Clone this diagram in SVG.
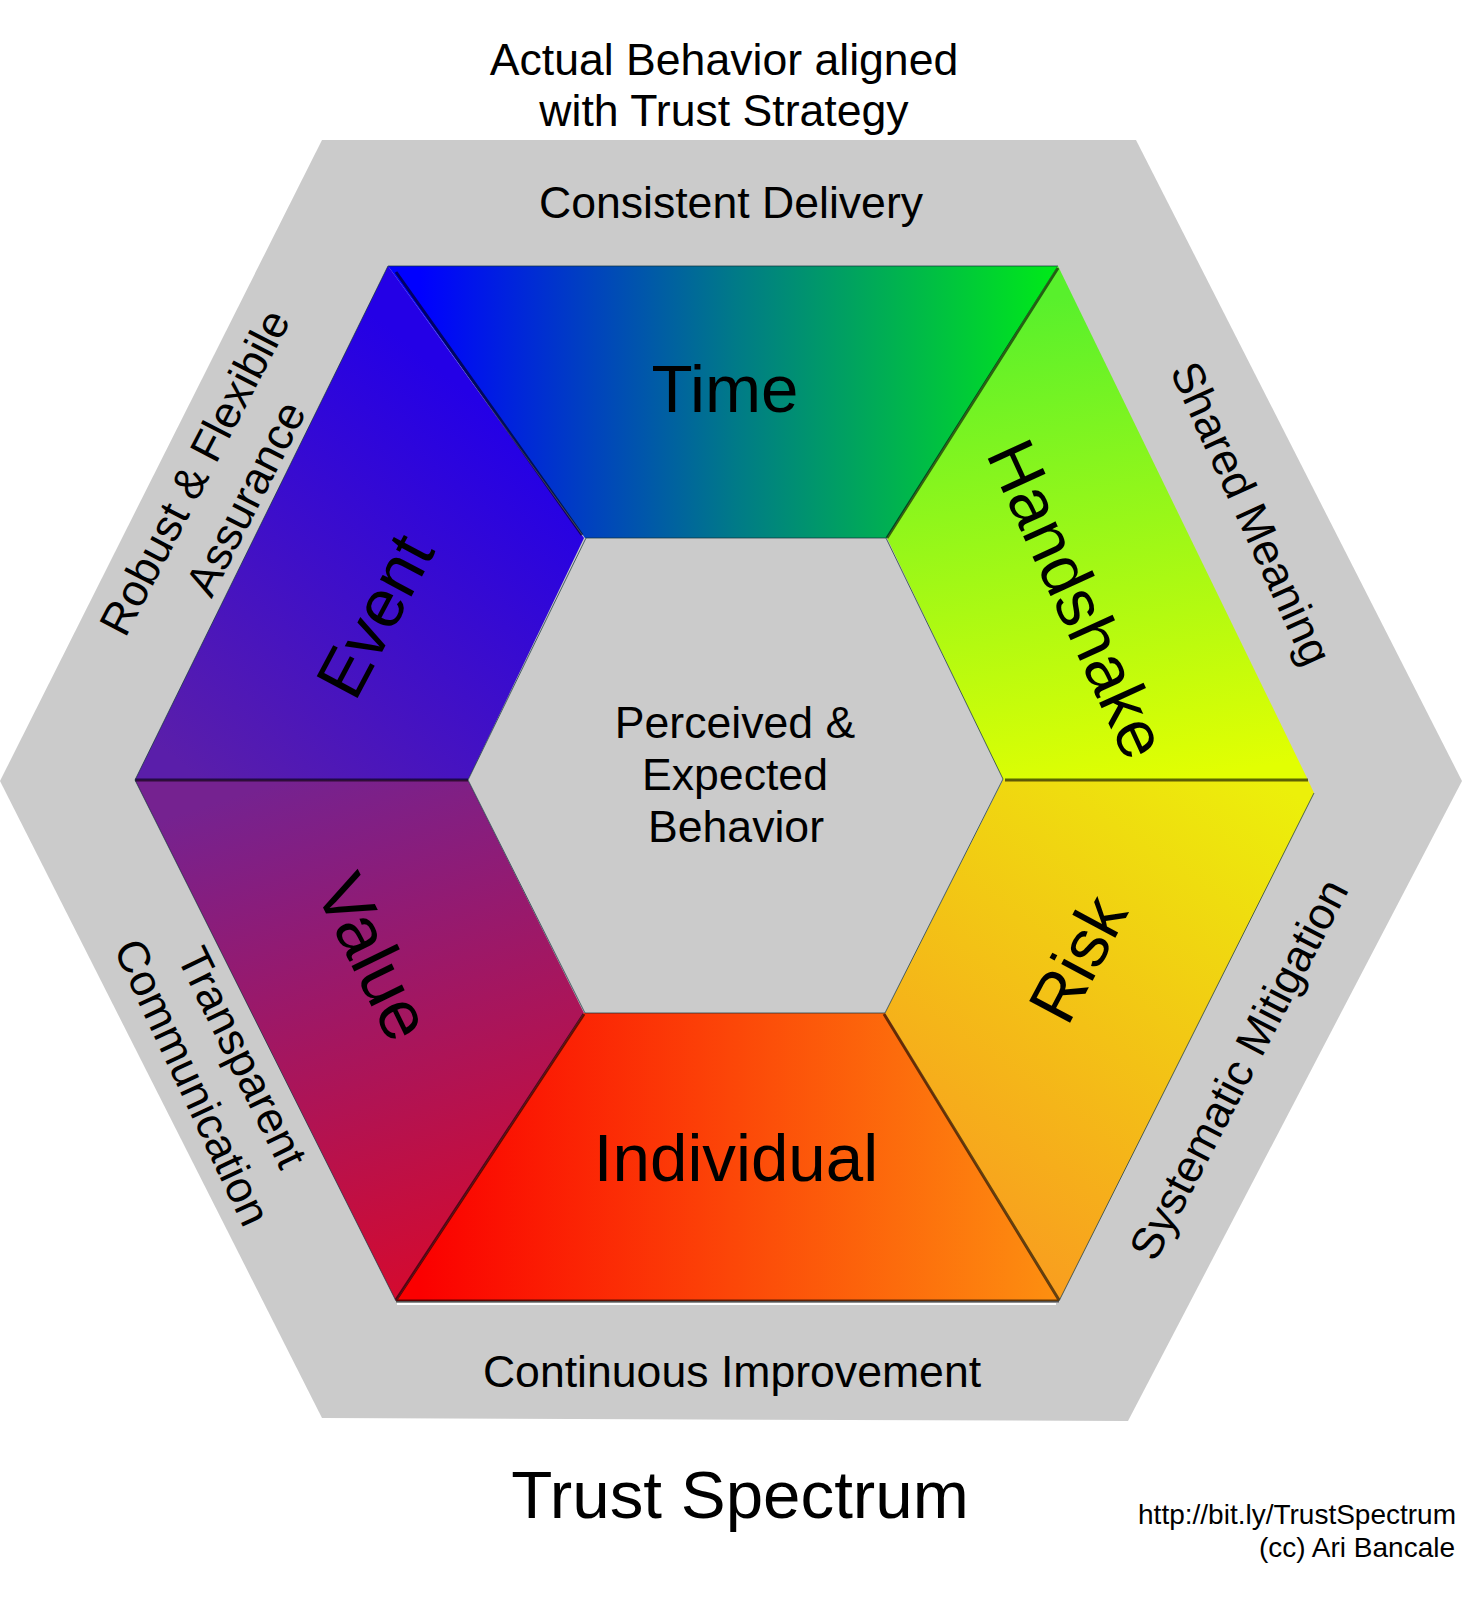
<svg xmlns="http://www.w3.org/2000/svg" width="1482" height="1600" viewBox="0 0 1482 1600">
<style>
text{font-family:"Liberation Sans",Arial,sans-serif;fill:#000;text-anchor:middle}
.big{font-size:67.3px}
.mid{font-size:44.6px}
.small{font-size:28px;text-anchor:end}
.seam{fill:none;stroke:#000;stroke-opacity:.6;stroke-width:3}
.edge{fill:none;stroke:#10303a;stroke-opacity:.7;stroke-width:1}
</style>
<defs>
<linearGradient id="gTime" gradientUnits="userSpaceOnUse" x1="420" y1="0" x2="1050" y2="0"><stop offset="0" stop-color="#0000ff"/><stop offset=".5" stop-color="#007a88"/><stop offset="1" stop-color="#00e81a"/></linearGradient>
<linearGradient id="gHand" gradientUnits="userSpaceOnUse" x1="1100" y1="290" x2="1180" y2="780"><stop offset="0" stop-color="#58f02c"/><stop offset="1" stop-color="#e2ff02"/></linearGradient>
<linearGradient id="gRisk" gradientUnits="userSpaceOnUse" x1="1290" y1="790" x2="960" y2="1260"><stop offset="0" stop-color="#ecf00a"/><stop offset="1" stop-color="#f99a20"/></linearGradient>
<linearGradient id="gInd" gradientUnits="userSpaceOnUse" x1="420" y1="0" x2="1050" y2="0"><stop offset="0" stop-color="#fb0000"/><stop offset="1" stop-color="#fd8e10"/></linearGradient>
<linearGradient id="gVal" gradientUnits="userSpaceOnUse" x1="280" y1="782" x2="440" y2="1290"><stop offset="0" stop-color="#752290"/><stop offset="1" stop-color="#d50a2e"/></linearGradient>
<linearGradient id="gEvt" gradientUnits="userSpaceOnUse" x1="500" y1="420" x2="200" y2="780"><stop offset="0" stop-color="#2400e6"/><stop offset="1" stop-color="#5a1eaa"/></linearGradient>
</defs>
<rect width="1482" height="1600" fill="#fff"/>
<g id="outer"><polygon points="322,140 1136,140 1462,781 1128,1421 322,1418 0,781" fill="#cbcbcb"/><text class="mid" x="731" y="218">Consistent Delivery</text><text class="mid" x="732" y="1387">Continuous Improvement</text><text class="mid" transform="translate(1252,513) rotate(65.5)" y="16">Shared Meaning</text><text class="mid" transform="translate(1238,1069) rotate(-62.5)" y="16">Systematic Mitigation</text><text class="mid" transform="translate(243,1057) rotate(64)" y="16">Transparent</text><text class="mid" transform="translate(193,1082) rotate(65)" y="16">Communication</text><text class="mid" transform="translate(194,472) rotate(-62.5)" y="16">Robust &amp; Flexibile</text><text class="mid" transform="translate(245,498) rotate(-63)" y="16">Assurance</text></g>
<g id="time"><polygon points="388,266 1058,266 887,538 585,538" fill="url(#gTime)"/><text class="big" x="725" y="412">Time</text></g>
<g id="event"><polygon points="388,266 584,538 468,780 135,780" fill="url(#gEvt)"/><text class="big" transform="translate(375,616) rotate(-62)" y="23">Event</text></g>
<g id="handshake"><polygon points="1058,266 1308,780 1003,780 887,538" fill="url(#gHand)"/><text class="big" transform="translate(1077,599) rotate(65.5)" y="23">Handshake</text></g>
<g id="risk"><polygon points="1003,780 1308,780 1314,793 1059,1301 885,1013" fill="url(#gRisk)"/><text class="big" transform="translate(1078,959) rotate(-62)" y="23">Risk</text></g>
<g id="value"><polygon points="135,780 468,780 584,1013 396,1301" fill="url(#gVal)"/><text class="big" style="font-size:70px" transform="translate(374,957) rotate(64)" y="24">Value</text></g>
<g id="individual"><polygon points="584,1013 885,1013 1059,1301 396,1301" fill="url(#gInd)"/><text class="big" x="736" y="1181">Individual</text></g>
<g id="center"><polygon points="586,538 886,538 1003,779 885,1013 585,1013 468,780" fill="#cbcbcb"/><text class="mid" x="735" y="738">Perceived &amp;</text><text class="mid" x="735" y="790">Expected</text><text class="mid" x="736" y="842">Behavior</text></g>
<g id="connectors">
<path class="seam" d="M396,272 582,535M1058,268 887,538M1005,780H1308M884,1014 1059,1300M584,1014 396,1300M135,780H468M396,1301H1059"/>
<path class="edge" d="M586,538H886L1003,779L885,1013H585L468,780ZM388,266H1058M388,266L135,780L396,1301M1314,793L1059,1301"/>
<path d="M397,1304H1056" fill="none" stroke="#fff" stroke-width="2"/>
</g>
<g id="captions"><text class="mid" x="724" y="75">Actual Behavior aligned</text><text class="mid" x="724" y="126">with Trust Strategy</text><text class="big" x="740" y="1518">Trust Spectrum</text><text class="small" x="1456" y="1524">http://bit.ly/TrustSpectrum</text><text class="small" x="1455" y="1557">(cc) Ari Bancale</text></g>
</svg>
